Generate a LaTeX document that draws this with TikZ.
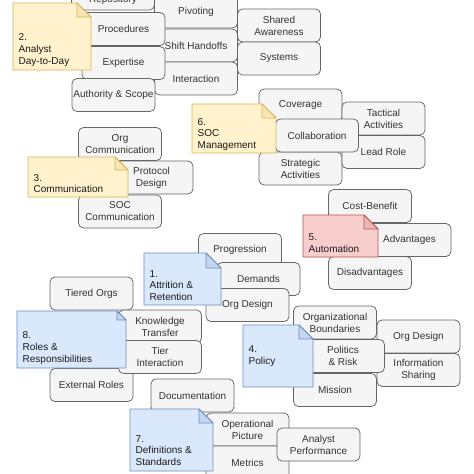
\documentclass[tikz,border=0pt]{standalone}
\usepackage{fontspec}
\setmainfont{Liberation Sans}
\definecolor{boxfill}{HTML}{F5F5F5}
\definecolor{boxline}{HTML}{666666}
\definecolor{txt}{HTML}{333333}
\definecolor{yfill}{HTML}{FFF2CC}
\definecolor{yline}{HTML}{D6B656}
\definecolor{bfill}{HTML}{DAE8FC}
\definecolor{bline}{HTML}{6C8EBF}
\definecolor{rfill}{HTML}{F8CECC}
\definecolor{rline}{HTML}{B85450}
\tikzset{
  bx/.style={draw=boxline, fill=boxfill, rounded corners=5pt, minimum width=83pt,
    minimum height=33pt, inner sep=1pt, align=center,
    font=\fontsize{10}{12}\selectfont, text=txt, line width=0.75pt},
  notetxt/.style={inner sep=0pt, align=left, font=\fontsize{10}{11.8}\selectfont, text=black!90}
}
\newcommand{\mynote}[9]{%
  \draw[draw=#7line, fill=#7fill, line width=0.75pt, line join=round]
    (#2,#3) -- ({#4-#6},#3) -- (#4,{#3+#6}) -- (#4,#5) -- (#2,#5) -- cycle;
  \draw[draw=#7line, fill=#7fill!80!#7line, line width=0.75pt, line join=round]
    ({#4-#6},#3) -- ({#4-#6},{#3+#6}) -- (#4,{#3+#6}) -- cycle;
  \node[notetxt, anchor=west] (#1) at ({#2+5.5},#9) {#8};
}
\begin{document}
\begin{tikzpicture}[x=1pt,y=-1pt]
\useasboundingbox (0,0) rectangle (474,474);
\fill[white] (0,0) rectangle (474,474);
\clip (0,0) rectangle (474,474);
% --- 2. Analyst Day-to-Day
\node[bx] (repo) at (113,-6.5) {\strut\\Repository};
\node[bx] (piv) at (196,11.5) {Pivoting};
\node[bx] (shift) at (196,45.5) {Shift Handoffs};
\node[bx] (inter) at (196,78.5) {Interaction};
\node[bx] (shared) at (279,25.5) {Shared\\Awareness};
\node[bx] (sys) at (279,58.5) {Systems};
\node[bx] (proc) at (123.5,29) {Procedures};
\node[bx] (exp) at (123.5,63) {Expertise};
\node[bx] (auth) at (113.5,95) {Authority \& Scope};
\mynote{n2}{13}{3}{91}{70}{14}{y}{2.\\Analyst\\Day-to-Day}{50}
% --- 6. SOC Management
\node[bx] (cov) at (300.5,105.5) {Coverage};
\node[bx] (strat) at (300.5,168.5) {Strategic\\Activities};
\node[bx] (tact) at (383.5,118.5) {Tactical\\Activities};
\node[bx] (lead) at (383.5,152) {Lead Role};
\node[bx] (collab) at (317,135.5) {Collaboration};
\mynote{n6}{192}{104}{276}{153}{14}{y}{6.\\SOC\\Management}{134.5}
% --- 3. Communication
\node[bx] (orgcom) at (120,144) {Org\\Communication};
\node[bx] (socom) at (120,211.5) {SOC\\Communication};
\node[bx] (proto) at (151.5,177.5) {Protocol\\Design};
\mynote{n3}{28}{157}{128}{197}{13}{y}{3.\\Communication}{183.5}
% --- 5. Automation
\node[bx] (cost) at (370,206) {Cost-Benefit};
\node[bx] (adv) at (409.5,240) {Advantages};
\node[bx] (disadv) at (370,273) {Disadvantages};
\mynote{n5}{303}{215}{378}{257}{14}{r}{5.\\Automation}{243}
% --- 1. Attrition & Retention
\node[bx] (prog) at (240,250) {Progression};
\node[bx] (dem) at (258.5,279) {Demands};
\node[bx] (orgdA) at (247.5,305) {Org Design};
\mynote{n1}{144}{253}{221}{305}{15}{b}{1.\\Attrition \&\\Retention}{285.5}
% --- 8. Roles & Responsibilities
\node[bx] (tiered) at (91.5,293.5) {Tiered Orgs};
\node[bx] (ext) at (91.5,385) {External Roles};
\node[bx] (know) at (160,326.5) {Knowledge\\Transfer};
\node[bx] (tier) at (160,357) {Tier\\Interaction};
\mynote{n8}{17}{311}{126}{368}{9}{b}{8.\\Roles \&\\Responsibilities}{348}
% --- 4. Policy
\node[bx] (orgb) at (335,322.5) {Organizational\\Boundaries};
\node[bx] (mission) at (335,390) {Mission};
\node[bx] (orgdP) at (418.5,336.5) {Org Design};
\node[bx] (info) at (418.5,370) {Information\\Sharing};
\node[bx] (pol) at (343,356) {Politics\\\& Risk};
\mynote{n4}{243}{325}{313}{387}{14}{b}{4.\\Policy}{356}
% --- 7. Definitions & Standards
\node[bx] (doc) at (192.5,395.5) {Documentation};
\node[bx] (op) at (247.5,429.5) {Operational\\Picture};
\node[bx] (met) at (247.5,462.5) {Metrics};
\node[bx] (perf) at (318.5,444.5) {Analyst\\Performance};
\mynote{n7}{130}{409}{213}{471}{14}{b}{7.\\Definitions \&\\Standards}{450.5}
\end{tikzpicture}
\end{document}
